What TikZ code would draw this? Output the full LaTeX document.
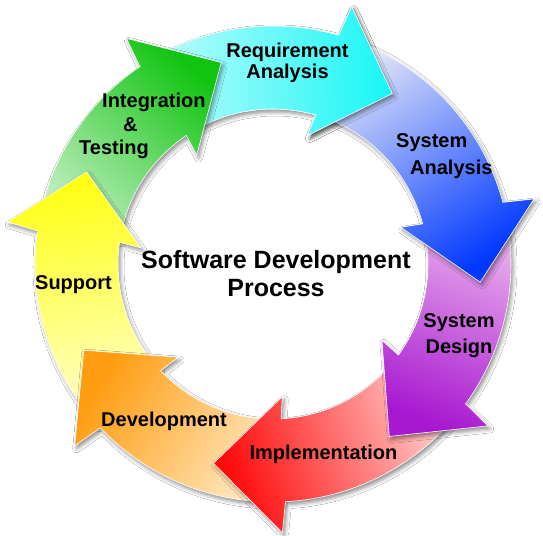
\documentclass[tikz,border=0pt]{standalone}
\usepackage{fontspec}
\setmainfont{Liberation Sans}
\usetikzlibrary{shadows.blur}
\definecolor{reqhead}{HTML}{18F6F6}
\definecolor{reqtail}{HTML}{C4FCFC}
\definecolor{sysanhead}{HTML}{0038FF}
\definecolor{sysantail}{HTML}{E0E4F8}
\definecolor{desighead}{HTML}{A818D0}
\definecolor{desigtail}{HTML}{ECB8EE}
\definecolor{implhead}{HTML}{FF0808}
\definecolor{impltail}{HTML}{FFD6D6}
\definecolor{devhead}{HTML}{FF9C10}
\definecolor{devtail}{HTML}{FFE8C0}
\definecolor{supphead}{HTML}{FFFF10}
\definecolor{supptail}{HTML}{FFFFD0}
\definecolor{inthead}{HTML}{10C410}
\definecolor{inttail}{HTML}{C0EEC0}
\tikzset{
  arrshadow/.style={blur shadow={shadow xshift=2pt, shadow yshift=-3pt, shadow blur radius=4pt, shadow opacity=45}},
  arrbody/.style={draw=white, line width=0.6pt},
  steplabel/.style={font=\bfseries\fontsize{20}{24}\selectfont, inner sep=0pt, align=center},
  titlelabel/.style={font=\bfseries\fontsize{25}{28}\selectfont, inner sep=0pt, align=center}
}
\newcommand{\ringin}{155pt}
\newcommand{\ringout}{238pt}
% #1 tail angle, #2 head base angle, #3 tip angle
\newcommand{\arrowgeom}[3]{%
  \pgfmathsetmacro{\shang}{(#1+#3)/2-180}%
  \pgfmathsetmacro{\barbo}{#2-1}%
  \pgfmathsetmacro{\barbi}{#2+1}%
  \def\arrpath{(#1:\ringout) arc[start angle=#1, end angle=#2, radius=\ringout]
    -- (\barbo:269pt) -- (#3:208pt) -- (\barbi:133pt) -- (#2:\ringin)
    arc[start angle=#2, end angle=#1, radius=\ringin] -- cycle}}
\newcommand{\cyclearrow}[5]{%
  \arrowgeom{#1}{#2}{#3}%
  \path[arrshadow, arrbody, top color=#4, bottom color=#5, shading angle=\shang] \arrpath;}
\begin{document}
\begin{tikzpicture}
\useasboundingbox[fill=white] (-273pt,-271pt) rectangle (270pt,264pt);
\cyclearrow{123}{74}{55}{reqhead}{reqtail}
\cyclearrow{171}{124}{104.4}{inthead}{inttail}
\cyclearrow{222.5}{172}{153.7}{supphead}{supptail}
\cyclearrow{-88}{-136.5}{-155.5}{devhead}{devtail}
\cyclearrow{-37}{-87}{-106.6}{implhead}{impltail}
\cyclearrow{14}{-36}{-56}{desighead}{desigtail}
\cyclearrow{73}{15}{-5}{sysanhead}{sysantail}
% requirement head back on top of the system analysis tail
\arrowgeom{123}{74}{55}
\begin{scope}
\clip (0,0) -- (73.5:300pt) arc[start angle=73.5, end angle=40, radius=300pt] -- cycle;
\path[arrshadow] \arrpath;
\end{scope}
\begin{scope}
\clip (0,0) -- (100:300pt) arc[start angle=100, end angle=40, radius=300pt] -- cycle;
\path[arrbody, top color=reqhead, bottom color=reqtail, shading angle=\shang] \arrpath;
\end{scope}
\node[steplabel] (reqlabel) at (14.5pt,200.7pt) {Requirement\\[-3pt]Analysis};
\node[steplabel, align=left, anchor=west] (sysanlabel) at (123pt,108pt) {System\\[3pt]\hspace*{14pt}Analysis};
\node[steplabel] (desiglabel) at (186pt,-72pt) {System\\[2pt]Design};
\node[steplabel] (impllabel) at (50.5pt,-190pt) {Implementation};
\node[steplabel] (devlabel) at (-109pt,-157pt) {Development};
\node[steplabel] (supplabel) at (-199.5pt,-21pt) {Support};
\node[steplabel, align=left, anchor=west, font=\bfseries\fontsize{20}{23.5}\selectfont] (intlabel) at (-194pt,138pt) {\hspace*{23pt}Integration\\\hspace*{44pt}\&\\Testing};
\node[titlelabel] (titlelabel) at (3pt,-10pt) {Software Development\\Process};
\end{tikzpicture}
\end{document}
